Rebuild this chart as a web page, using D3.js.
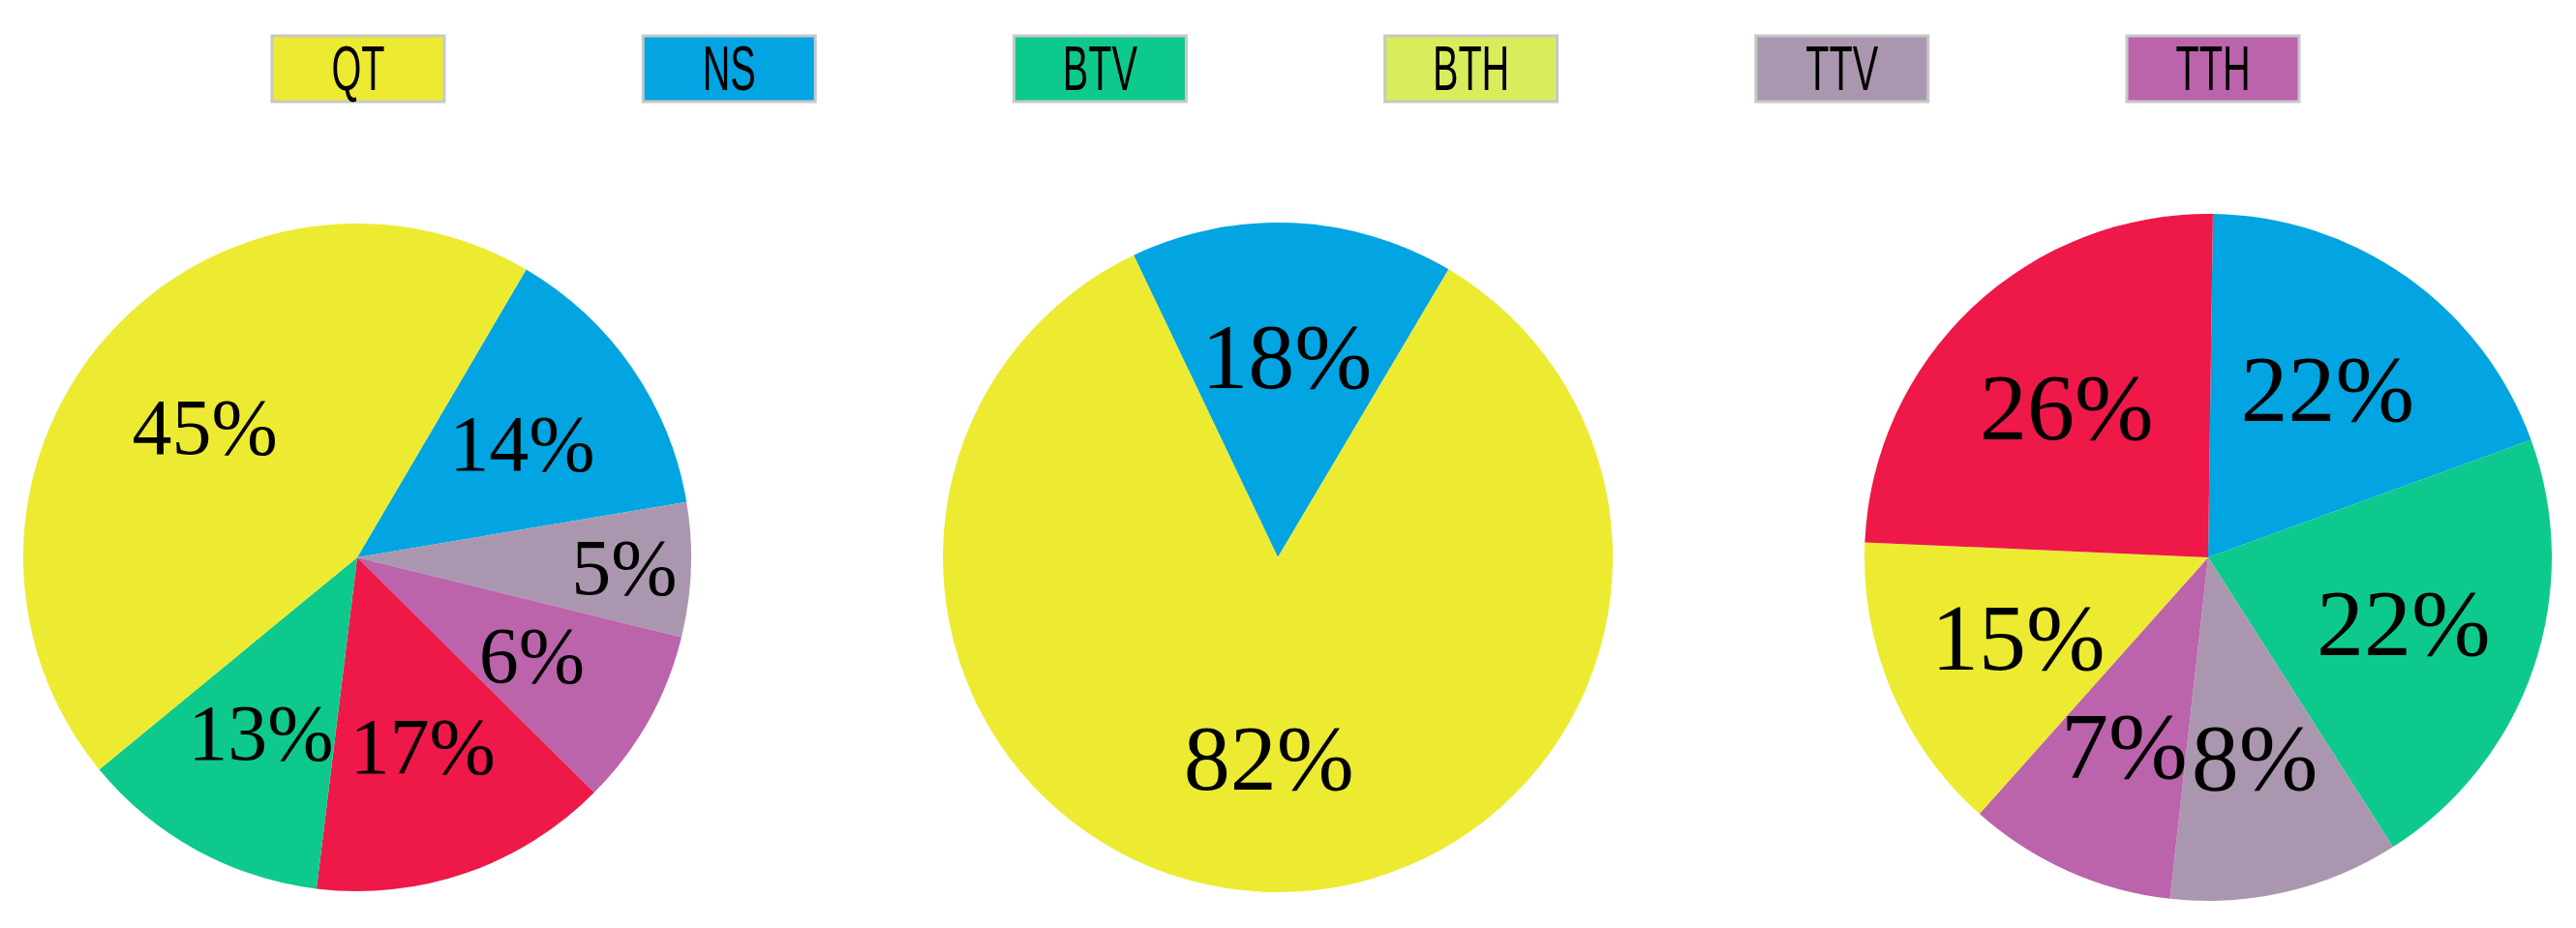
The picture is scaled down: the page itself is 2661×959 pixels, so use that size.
<!DOCTYPE html>
<head>
  <meta charset="utf-8">
  <title>Pie charts</title>
  <style>
    body { margin: 0; background: #fff; }
    svg { display: block; }
  </style>
</head>
<body>

<svg width="2661" height="959"></svg>

<script src="https://d3js.org/d3.v7.min.js"></script>
<script>

  // legend categories and their colours
  const categories = ["QT", "NS", "BTV", "BTH", "TTV", "TTH"];
  const categoryColors = ["#ECEB31", "#02A5E1", "#0EC98D", "#D9ED5C", "#AA97AF", "#BB63AB"];
  // red slice is not in the legend
  const otherColor = "#EE1849";

  // pie 1 (clockwise, starting at the QT/NS border)
  const pie1Keys = ["NS", "TTV", "TTH", "other", "BTV", "QT"];
  const pie1Values = [13.9, 6.5, 8.6, 14.5, 12.1, 44.4];
  const pie1Labels = ["14%", "5%", "6%", "17%", "13%", "45%"];

  // pie 2
  const pie2Keys = ["NS", "QT"];
  const pie2Values = [15.6, 84.4];
  const pie2Labels = ["18%", "82%"];

  // pie 3
  const pie3Keys = ["NS", "BTV", "TTV", "TTH", "QT", "other"];
  const pie3Values = [19.2, 21.5, 10.8, 9.8, 14.1, 24.5];
  const pie3Labels = ["22%", "22%", "8%", "7%", "15%", "26%"];

  const svg = d3.select("svg");

  const color = d3.scaleOrdinal()
    .domain(categories.concat(["other"]))
    .range(categoryColors.concat([otherColor]));

  const deg = Math.PI / 180;

  // legend
  const legendX = d3.scalePoint()
    .domain(categories)
    .range([281, 2197]);

  const legend = svg.append("g").attr("class", "legend")
    .selectAll("g")
    .data(categories)
    .join("g")
    .attr("transform", d => `translate(${legendX(d)},37)`);

  legend.append("rect")
    .attr("width", 178)
    .attr("height", 68)
    .attr("fill", d => color(d))
    .attr("stroke", "#c8c8c8")
    .attr("stroke-width", 3);

  // condensed look: squeeze the regular sans horizontally
  legend.append("text")
    .attr("transform", "translate(89,34) scale(0.62,1)")
    .attr("text-anchor", "middle")
    .attr("dominant-baseline", "central")
    .style("font-family", "'Liberation Sans', Arial, sans-serif")
    .style("font-size", "64px")
    .attr("fill", "#000")
    .text(d => d);

  // pies
  const pies = [
    { keys: pie1Keys, values: pie1Values, labels: pie1Labels, cx: 369, cy: 576, r: 345, start: 30.4, font: 82 },
    { keys: pie2Keys, values: pie2Values, labels: pie2Labels, cx: 1320, cy: 576, r: 346, start: -25.5, font: 96 },
    { keys: pie3Keys, values: pie3Values, labels: pie3Labels, cx: 2281, cy: 576, r: 355, start: 0.8, font: 98 }
  ];

  pies.forEach(p => {
    const rows = p.keys.map((k, i) => ({ key: k, value: p.values[i], label: p.labels[i] }));

    const pie = d3.pie()
      .sort(null)
      .value(d => d.value)
      .startAngle(p.start * deg)
      .endAngle(p.start * deg + 2 * Math.PI);

    const arc = d3.arc().innerRadius(0).outerRadius(p.r);
    const labelArc = d3.arc().innerRadius(p.r * 0.6).outerRadius(p.r * 0.6);
    const outerLabelArc = d3.arc().innerRadius(p.r * 0.8).outerRadius(p.r * 0.8);

    const g = svg.append("g")
      .attr("transform", `translate(${p.cx},${p.cy})`);

    const arcs = pie(rows);

    g.selectAll("path")
      .data(arcs)
      .join("path")
      .attr("d", arc)
      .attr("fill", d => color(d.data.key));

    g.selectAll("text")
      .data(arcs)
      .join("text")
      .attr("transform", d => {
        // narrow slices get their label pushed outward
        const a = (d.endAngle - d.startAngle) < 0.45 ? outerLabelArc : labelArc;
        return `translate(${a.centroid(d)})`;
      })
      .attr("text-anchor", "middle")
      .attr("dominant-baseline", "central")
      .style("font-family", "'Liberation Serif', 'Times New Roman', serif")
      .style("font-size", p.font + "px")
      .attr("fill", "#000")
      .text(d => d.data.label);
  });

</script>
</body>
